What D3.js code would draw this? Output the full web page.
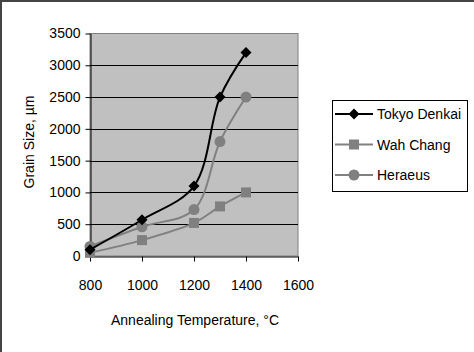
<!DOCTYPE html>
<html>
<head>
<meta charset="utf-8">
<script src="https://cdn.jsdelivr.net/npm/d3@7"></script>
<style>
  body { margin: 0; background: #fff; }
  svg text { font-family: "Liberation Sans", Arial, sans-serif; fill: #000; }
</style>
</head>
<body>
<svg id="chart" width="474" height="352"></svg>
<script>
// ----------------------------------------------------------------------------
// data
// ----------------------------------------------------------------------------
const temps = [800, 1000, 1200, 1300, 1400];
const tokyoDenkai = [100, 570, 1100, 2500, 3200];
const wahChang = [50, 250, 520, 780, 1000];
const heraeus = [150, 460, 730, 1800, 2500];

const xTicks = [800, 1000, 1200, 1400, 1600];
const yTicks = [0, 500, 1000, 1500, 2000, 2500, 3000, 3500];

const series = [
  { name: 'Tokyo Denkai', values: tokyoDenkai, color: '#000', marker: 'diamond' },
  { name: 'Wah Chang', values: wahChang, color: '#808080', marker: 'square' },
  { name: 'Heraeus', values: heraeus, color: '#808080', marker: 'circle' },
];

const svg = d3.select('#chart');

// frame on top / left edge
svg.append('rect').attr('x', 0).attr('y', 0).attr('width', 474).attr('height', 2).attr('fill', '#444');
svg.append('rect').attr('x', 0).attr('y', 0).attr('width', 2).attr('height', 352).attr('fill', '#444');

const x = d3.scaleLinear().domain([800, 1600]).range([90, 298]);
const y = d3.scaleLinear().domain([0, 3500]).range([256, 33.5]);

// plot area
svg.append('rect')
  .attr('x', x(800)).attr('y', y(3500))
  .attr('width', x(1600) - x(800)).attr('height', y(0) - y(3500))
  .attr('fill', '#c0c0c0').attr('stroke', '#808080').attr('stroke-width', 1);

// gridlines
svg.append('g').selectAll('line')
  .data(yTicks.filter(d => d > 0 && d < 3500))
  .enter().append('line')
  .attr('x1', x(800)).attr('x2', x(1600))
  .attr('y1', d => Math.round(y(d)) + 0.5).attr('y2', d => Math.round(y(d)) + 0.5)
  .attr('stroke', '#000').attr('stroke-width', 1);

// axes
const xAxis = svg.append('g')
  .attr('transform', `translate(0,${Math.round(y(0)) + 0.5})`)
  .call(d3.axisBottom(x).tickValues(xTicks).tickFormat(d3.format('d'))
    .tickSize(5).tickPadding(19).tickSizeOuter(0));
const yAxis = svg.append('g')
  .attr('transform', `translate(${Math.round(x(800)) + 0.5},0)`)
  .call(d3.axisLeft(y).tickValues(yTicks).tickFormat(d3.format('d'))
    .tickSize(5).tickPadding(5).tickSizeOuter(0));

[xAxis, yAxis].forEach(a => {
  a.selectAll('path').attr('stroke', '#000');
  a.selectAll('line').attr('stroke', '#000');
  a.selectAll('text').style('font-size', '14px').style('font-family', '"Liberation Sans", Arial, sans-serif');
});

svg.append('text')
  .text('Annealing Temperature, °C')
  .attr('x', 195).attr('y', 325)
  .attr('text-anchor', 'middle').style('font-size', '14px');

svg.append('text')
  .text('Grain Size, µm')
  .attr('transform', 'translate(34,142) rotate(-90)')
  .attr('text-anchor', 'middle').style('font-size', '14px');

// ----------------------------------------------------------------------------
// lines and markers
// ----------------------------------------------------------------------------
const line = d3.line()
  .x((d, i) => x(temps[i]))
  .y(d => y(d))
  .curve(d3.curveCatmullRom.alpha(0.5));

const drawMarker = (g, type, cx, cy, color) => {
  if (type === 'diamond') {
    g.append('path')
      .attr('d', `M${cx},${cy - 5.5}L${cx + 5.5},${cy}L${cx},${cy + 5.5}L${cx - 5.5},${cy}Z`)
      .attr('fill', color);
  } else if (type === 'square') {
    g.append('rect')
      .attr('x', cx - 5).attr('y', cy - 5).attr('width', 10).attr('height', 10)
      .attr('fill', color);
  } else {
    g.append('circle').attr('cx', cx).attr('cy', cy).attr('r', 5.5).attr('fill', color);
  }
};

// draw in reverse so Tokyo Denkai sits on top
series.slice().reverse().forEach(s => {
  const g = svg.append('g');
  g.append('path')
    .attr('d', line(s.values))
    .attr('fill', 'none')
    .attr('stroke', s.color)
    .attr('stroke-width', 2);
  s.values.forEach((v, i) => drawMarker(g, s.marker, x(temps[i]), y(v), s.color));
});

// ----------------------------------------------------------------------------
// legend
// ----------------------------------------------------------------------------
const legend = svg.append('g');
legend.append('rect')
  .attr('x', 332.5).attr('y', 100.5).attr('width', 135).attr('height', 91)
  .attr('fill', '#fff').attr('stroke', '#000').attr('stroke-width', 1);

series.forEach((s, i) => {
  const ly = 114 + i * 30.5;
  legend.append('line')
    .attr('x1', 335).attr('x2', 373).attr('y1', ly).attr('y2', ly)
    .attr('stroke', s.color).attr('stroke-width', 2);
  drawMarker(legend, s.marker, 354, ly, s.color);
  legend.append('text')
    .text(s.name)
    .attr('x', 377).attr('y', ly + 5)
    .style('font-size', '14px');
});
</script>
</body>
</html>
